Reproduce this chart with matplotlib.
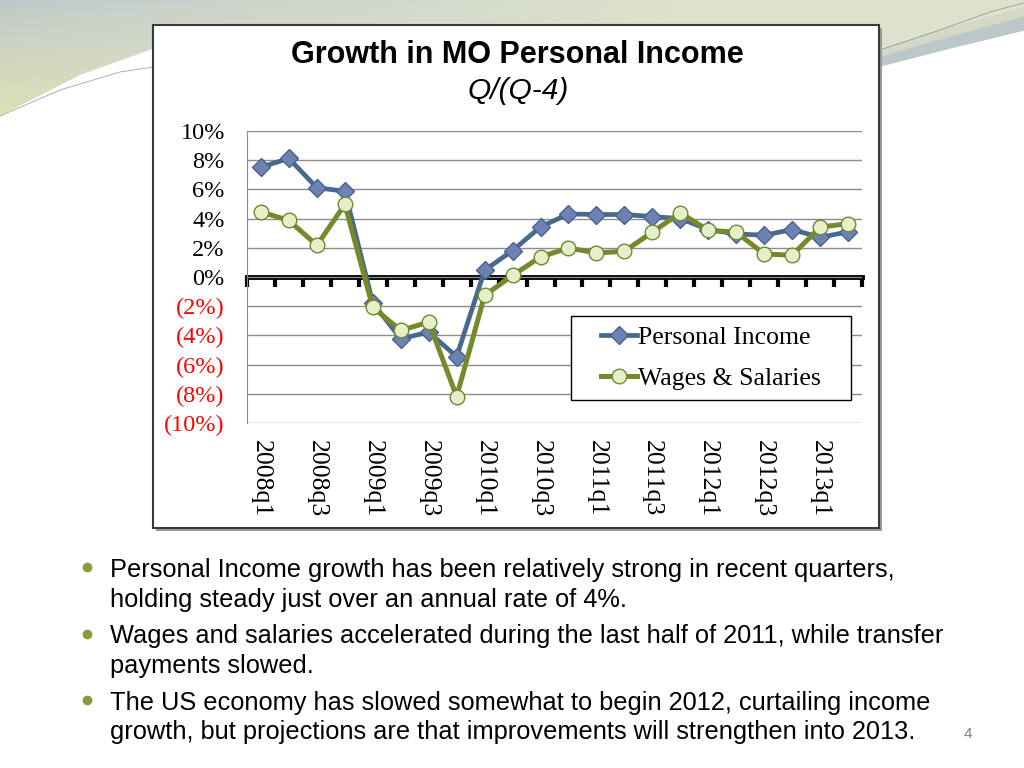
import numpy as np
import matplotlib
matplotlib.use('Agg')
from matplotlib import pyplot as plt
from matplotlib.patches import Rectangle, Polygon

# data (year over year growth, %)
quarters = ['2008q1', '2008q2', '2008q3', '2008q4', '2009q1', '2009q2', '2009q3', '2009q4',
            '2010q1', '2010q2', '2010q3', '2010q4', '2011q1', '2011q2', '2011q3', '2011q4',
            '2012q1', '2012q2', '2012q3', '2012q4', '2013q1', '2013q2']
personal_income = [7.53, 8.12, 6.11, 5.88, -1.78, -4.23, -3.78, -5.45, 0.46, 1.81, 3.43,
                   4.32, 4.28, 4.28, 4.14, 4.00, 3.25, 2.95, 2.86, 3.25, 2.72, 3.09]
wages_salaries = [4.46, 3.87, 2.17, 4.97, -2.08, -3.66, -3.09, -8.19, -1.26, 0.11, 1.37,
                  1.99, 1.65, 1.76, 3.07, 4.39, 3.20, 3.07, 1.58, 1.49, 3.41, 3.66]
y_ticks = [-10, -8, -6, -4, -2, 0, 2, 4, 6, 8, 10]

bullets = [
    ["Personal Income growth has been relatively strong in recent quarters,",
     "holding steady just over an annual rate of 4%."],
    ["Wages and salaries accelerated during the last half of 2011, while transfer",
     "payments slowed."],
    ["The US economy has slowed somewhat to begin 2012, curtailing income",
     "growth, but projections are that improvements will strengthen into 2013."],
]

serif = 'Liberation Serif'
sans = 'Liberation Sans'

fig = plt.figure(figsize=(10.24, 7.68), dpi=100)
fig.patch.set_facecolor('white')

# background of the slide, in pixel units
bg = fig.add_axes([0, 0, 1, 1], zorder=0)
bg.set_xlim(0, 1024)
bg.set_ylim(768, 0)
bg.axis('off')

H = 140
yy, xx = np.mgrid[0:H, 0:1024]
blue = np.array([0.74, 0.78, 0.80])
yellow = np.array([0.88, 0.89, 0.70])
beige = np.array([0.87, 0.89, 0.80])
ty = (yy / 130.0).clip(0, 1)[..., None] ** 0.8
tx = (xx / 700.0).clip(0, 1)[..., None] ** 0.8
grad = (blue * (1 - ty) + yellow * ty) * (1 - tx) + beige * tx
im = bg.imshow(grad, extent=(0, 1024, H, 0), aspect='auto', zorder=0)
top_shape = Polygon([(0, 0), (1024, 0), (1024, 30), (950, 48), (880, 66), (600, 40),
                     (300, 30), (155, 48), (80, 75), (0, 116)], closed=True,
                    facecolor='none', edgecolor='none', transform=bg.transData)
bg.add_patch(top_shape)
im.set_clip_path(top_shape)
# swoosh bands and thin lines
bg.fill([880, 950, 1024, 1024, 950, 880], [56, 36, 16, 30, 48, 66], color='#bcc7ca', zorder=1)
bg.fill([880, 950, 1024, 1024, 950, 880], [50, 28, 8, 16, 36, 56], color='#d3d9c4', zorder=1)
bg.plot([0, 60, 120, 160], [116, 90, 72, 66], color='#a0a6a6', lw=0.6, zorder=1)
bg.plot([880, 940, 990, 1024], [50, 30, 12, 3], color='#8e9aa0', lw=0.6, zorder=1)

# chart box with shadow
bg.add_patch(Rectangle((156, 28), 726, 503, facecolor='#9a9a9a', edgecolor='none', zorder=2))
bg.add_patch(Rectangle((153, 25), 726, 503, facecolor='white', edgecolor='#3a3a3a', lw=1.5, zorder=3))

bg.text(517, 55, 'Growth in MO Personal Income', ha='center', va='center',
        fontsize=22, fontweight='bold', family=sans, zorder=4)
bg.text(518, 91, 'Q/(Q-4)', ha='center', va='center', fontsize=21.5,
        fontstyle='italic', family=sans, zorder=4)

# bullets
y0 = 570
for lines in bullets:
    bg.plot(87, y0 - 3, 'o', color='#8b9a3b', ms=6, zorder=4)
    for ln in lines:
        bg.text(110, y0, ln, ha='left', va='center', fontsize=18.3, family=sans, zorder=4)
        y0 += 29.5
    y0 += 7.5
bg.text(968, 734, '4', ha='center', va='center', fontsize=11, color='#808080', family=sans)

# the chart
ax = fig.add_axes([247 / 1024, 1 - 423 / 768, 615 / 1024, 292 / 768], zorder=5)
ax.patch.set_alpha(0)
x = np.arange(len(quarters))
ax.plot(x, personal_income, color='#46698c', lw=3.4, marker='D', ms=9,
        mfc='#6d81b3', mec='#4a6290', mew=1, label='Personal Income', zorder=3)
ax.plot(x, wages_salaries, color='#76892b', lw=3.6, marker='o', ms=10.5,
        mfc='#e6efc8', mec='#6d8a35', mew=1, label='Wages & Salaries', zorder=4)

ax.set_xlim(-0.5, len(quarters) - 0.5)
ax.set_ylim(-10, 10)
ax.set_yticks(y_ticks)
ax.set_yticklabels([('%d%%' % v) if v >= 0 else '(%d%%)' % -v for v in y_ticks],
                   family=serif, fontsize=17.5)
for lab, v in zip(ax.get_yticklabels(), y_ticks):
    if v < 0:
        lab.set_color('#ff0000')
ax.tick_params(axis='y', length=0, pad=16)
ax.yaxis.grid(True, color='#8c8c8c', lw=1)
ax.set_axisbelow(True)

ax.set_xticks(x[::2])
ax.set_xticklabels(quarters[::2], rotation=-90, family=serif, fontsize=18.5, va='top')
ax.tick_params(axis='x', length=0, pad=12)

for s in ['top', 'right', 'bottom']:
    ax.spines[s].set_visible(False)
ax.spines['left'].set_color('#8c8c8c')

# zero line with category boundary ticks
sec = ax.secondary_xaxis(0.5)
sec.set_alignment('bottom')
sec.set_xticks(np.arange(len(quarters) + 1) - 0.5)
sec.tick_params(axis='x', direction='out', length=7, width=3, color='black', labelbottom=False)
sec.spines['bottom'].set_linewidth(3.5)
sec.spines['bottom'].set_color('black')

# legend: box drawn separately so its size matches the original
leg_box = (0.527, 0.079, 0.455, 0.287)
ax.add_patch(Rectangle(leg_box[:2], leg_box[2], leg_box[3], transform=ax.transAxes,
                       facecolor='white', edgecolor='black', lw=1, zorder=9))
leg = ax.legend(loc='center', bbox_to_anchor=leg_box,
                prop={'family': serif, 'size': 18.5}, frameon=False,
                numpoints=1, handlelength=1.4, handletextpad=0.05,
                labelspacing=0.72, borderpad=0.3)
leg.set_zorder(10)

fig.savefig('out.png', dpi=100)
